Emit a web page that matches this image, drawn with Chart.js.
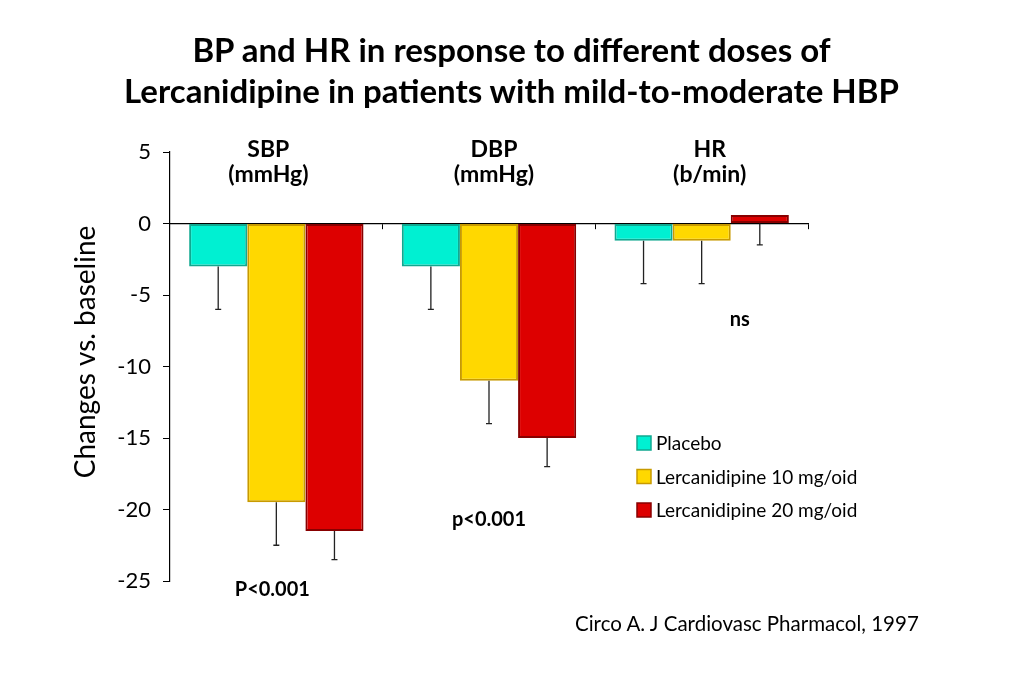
<!DOCTYPE html>
<html>
<head>
<meta charset="utf-8">
<script src="https://cdn.jsdelivr.net/npm/chart.js@4/dist/chart.umd.min.js"></script>
<style>
  html, body { margin: 0; padding: 0; background: #fff; }
  #wrap { position: relative; width: 1023px; height: 682px; }
  #title {
    position: absolute; left: 0; top: 29px; width: 1023px; text-align: center;
    font-family: Lato, "Open Sans", sans-serif; font-weight: bold; font-size: 33px;
    line-height: 41px; color: #000;
  }
  #cite {
    position: absolute; left: 575px; top: 611px;
    font-family: Lato, "Open Sans", sans-serif; font-size: 20.5px; color: #000;
  }
</style>
</head>
<body>
<div id="wrap">
  <canvas id="bpChart" width="1023" height="682"></canvas>
  <div id="title">BP and HR in response to different doses of<br>Lercanidipine in patients with mild-to-moderate HBP</div>
  <div id="cite">Circo A. J Cardiovasc Pharmacol, 1997</div>
</div>
<script>
// Data for the chart
const categories = [['SBP', '(mmHg)'], ['DBP', '(mmHg)'], ['HR', '(b/min)']];
const seriesNames = ['Placebo', 'Lercanidipine 10 mg/oid', 'Lercanidipine 20 mg/oid'];
const placebo = [-3, -3, -1.2];
const lerca10 = [-19.5, -11, -1.2];
const lerca20 = [-21.5, -15, 0.6];
// lower end of each error bar
const placeboErr = [-6, -6, -4.2];
const lerca10Err = [-22.5, -14, -4.2];
const lerca20Err = [-23.5, -17, -1.5];
const yTicks = [5, 0, -5, -10, -15, -20, -25];
// significance notes: text, category index, value
const notes = [
    { text: 'P<0.001', cat: 0, value: -25.6, dx: -4 },
    { text: 'p<0.001', cat: 1, value: -20.7, dx: 0 },
    { text: 'ns', cat: 2, value: -6.7, dx: 38 }
];

const fills = ['#00F0D2', '#FFD800', '#DD0000'];
const edges = ['#10A890', '#C89A00', '#880000'];
const errs = [placeboErr, lerca10Err, lerca20Err];
const labelShift = [-8, 5, 8];

const FONT = 'Lato, "Open Sans", sans-serif';

// draws error bars, group labels, notes, axis title and the legend
const extras = {
    id: 'extras',
    afterDatasetsDraw(chart) {
        const ctx = chart.ctx;
        const x = chart.scales.x;
        const y = chart.scales.y;
        ctx.save();
        // error bars
        ctx.strokeStyle = '#222';
        ctx.lineWidth = 1.3;
        chart.data.datasets.forEach((ds, di) => {
            const meta = chart.getDatasetMeta(di);
            meta.data.forEach((bar, i) => {
                const from = y.getPixelForValue(Math.min(ds.data[i], 0));
                const to = y.getPixelForValue(errs[di][i]);
                ctx.beginPath();
                ctx.moveTo(bar.x, from);
                ctx.lineTo(bar.x, to);
                ctx.moveTo(bar.x - 3, to);
                ctx.lineTo(bar.x + 3, to);
                ctx.stroke();
            });
        });
        // group labels
        ctx.fillStyle = '#000';
        ctx.textAlign = 'center';
        ctx.textBaseline = 'middle';
        ctx.font = 'bold 23px ' + FONT;
        categories.forEach((lines, i) => {
            const cx = x.getPixelForValue(i) + labelShift[i];
            ctx.fillText(lines[0], cx, 150);
            ctx.fillText(lines[1], cx, 175);
        });
        // notes
        ctx.font = 'bold 20px ' + FONT;
        notes.forEach(n => {
            ctx.fillText(n.text, x.getPixelForValue(n.cat) + n.dx, y.getPixelForValue(n.value));
        });
        // y axis title
        ctx.save();
        ctx.translate(86, 352);
        ctx.rotate(-Math.PI / 2);
        ctx.font = '28px ' + FONT;
        ctx.fillText('Changes vs. baseline', 0, 0);
        ctx.restore();
        // legend
        ctx.textAlign = 'left';
        ctx.font = '19px ' + FONT;
        seriesNames.forEach((name, i) => {
            const ly = 443 + i * 33.5;
            ctx.fillStyle = fills[i];
            ctx.fillRect(637, ly - 7, 14, 14);
            ctx.strokeStyle = edges[i];
            ctx.lineWidth = 1.5;
            ctx.strokeRect(637, ly - 7, 14, 14);
            ctx.fillStyle = '#000';
            ctx.fillText(name, 656, ly + 1);
        });
        ctx.restore();
    }
};

const data = {
    labels: categories.map(c => c.join(' ')),
    datasets: [placebo, lerca10, lerca20].map((vals, i) => ({
        label: seriesNames[i],
        data: vals,
        backgroundColor: fills[i],
        borderColor: edges[i],
        borderWidth: 2,
        borderSkipped: false,
        barPercentage: 1.0,
        categoryPercentage: 0.82
    }))
};

const options = {
    responsive: false,
    animation: false,
    layout: { padding: { top: 152, bottom: 101, left: 60, right: 215 } },
    plugins: {
        legend: { display: false },
        tooltip: { enabled: false }
    },
    scales: {
        x: {
            position: { y: 0 },
            ticks: { display: false },
            grid: { offset: true, drawOnChartArea: false, tickLength: 5, color: '#000' },
            border: { color: '#000', width: 1.2 }
        },
        y: {
            min: -25,
            max: 5,
            afterFit(scale) { scale.width = 110; },
            afterBuildTicks(scale) { scale.ticks = yTicks.map(v => ({ value: v })); },
            ticks: { color: '#000', font: { family: FONT, size: 22 }, padding: 12 },
            grid: { drawOnChartArea: false, tickLength: 7, color: '#000' },
            border: { color: '#000', width: 1.2 }
        }
    }
};

const ctx = document.getElementById('bpChart').getContext('2d');
const bpChart = new Chart(ctx, {
    type: 'bar',
    data: data,
    options: options,
    plugins: [extras]
});
</script>
</body>
</html>
